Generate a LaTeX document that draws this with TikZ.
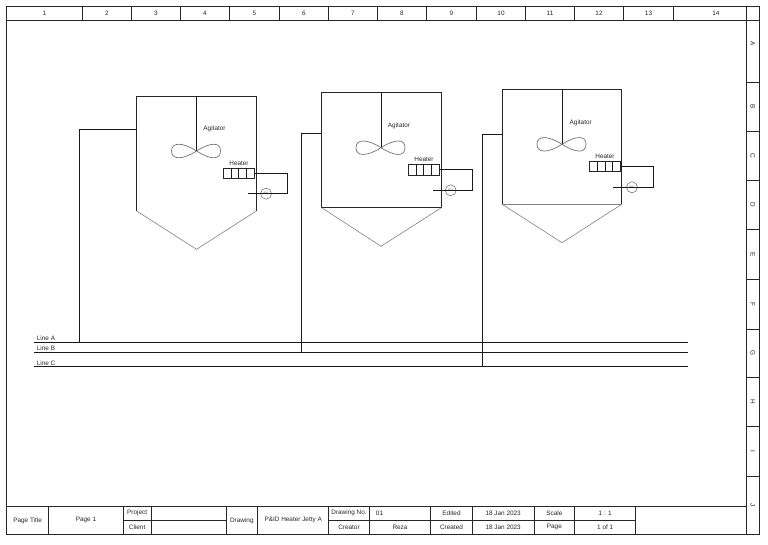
\documentclass[tikz,border=0pt]{standalone}
\usepackage{fontspec}
\setmainfont{Liberation Sans}
\begin{document}
\begin{tikzpicture}[x=1pt,y=-1pt,
  cell/.style={draw=black!85,line width=0.9pt,inner sep=0pt,outer sep=0pt,text=black!85,font=\fontsize{6.4}{7}\selectfont},
  tag/.style={inner sep=0pt,text=black!85,font=\fontsize{6.4}{7}\selectfont},
  pipe/.style={draw=black!90,line width=0.9pt},
  shell/.style={draw=black!85,line width=0.9pt},
  cone/.style={draw=black!50,line width=0.6pt},
  blade/.style={draw=black!55,line width=0.7pt},
  valve/.style={circle,draw=black!60,line width=0.5pt,fill=white,minimum size=11pt,inner sep=0pt,text=black!60,font=\fontsize{3.5}{4}\selectfont}]
\useasboundingbox (0,0) rectangle (768,544);

% Sheet
\node[cell,minimum width=739.8,minimum height=486.1] (sheet) at (376.4,263.45) {};

% Column ruler
\node[cell,minimum width=75.8,minimum height=13.9] (col1) at (44.4,13.45) {1};
\node[cell,minimum width=49.4,minimum height=13.9] (col2) at (107,13.45) {2};
\node[cell,minimum width=48.6,minimum height=13.9] (col3) at (156,13.45) {3};
\node[cell,minimum width=49.4,minimum height=13.9] (col4) at (205,13.45) {4};
\node[cell,minimum width=49.6,minimum height=13.9] (col5) at (254.5,13.45) {5};
\node[cell,minimum width=49.4,minimum height=13.9] (col6) at (304,13.45) {6};
\node[cell,minimum width=48.6,minimum height=13.9] (col7) at (353,13.45) {7};
\node[cell,minimum width=49.4,minimum height=13.9] (col8) at (402,13.45) {8};
\node[cell,minimum width=49.6,minimum height=13.9] (col9) at (451.5,13.45) {9};
\node[cell,minimum width=49.4,minimum height=13.9] (col10) at (501,13.45) {10};
\node[cell,minimum width=48.6,minimum height=13.9] (col11) at (550,13.45) {11};
\node[cell,minimum width=49.4,minimum height=13.9] (col12) at (599,13.45) {12};
\node[cell,minimum width=49.6,minimum height=13.9] (col13) at (648.5,13.45) {13};
\node[cell,minimum width=73,minimum height=13.9] (col14) at (709.8,13.45) {\hspace*{12pt}14};
\node[cell,minimum width=13,minimum height=13.9] (corner) at (752.8,13.45) {};

% Row ruler
\node[cell,minimum width=13,minimum height=61.6] (rowA) at (752.8,51.2) {};
\node[tag] (rowAlabel) at (752.8,43.5) {\rotatebox{-90}{A}};
\node[cell,minimum width=13,minimum height=49.7] (rowB) at (752.8,106.85) {\rotatebox{-90}{B}};
\node[cell,minimum width=13,minimum height=48.6] (rowC) at (752.8,156) {\rotatebox{-90}{C}};
\node[cell,minimum width=13,minimum height=49.4] (rowD) at (752.8,205) {\rotatebox{-90}{D}};
\node[cell,minimum width=13,minimum height=49.6] (rowE) at (752.8,254.5) {\rotatebox{-90}{E}};
\node[cell,minimum width=13,minimum height=49.7] (rowF) at (752.8,304.15) {\rotatebox{-90}{F}};
\node[cell,minimum width=13,minimum height=48.7] (rowG) at (752.8,353.35) {\rotatebox{-90}{G}};
\node[cell,minimum width=13,minimum height=49] (rowH) at (752.8,402.2) {\rotatebox{-90}{H}};
\node[cell,minimum width=13,minimum height=50] (rowI) at (752.8,451.7) {\rotatebox{-90}{I}};
\node[cell,minimum width=13,minimum height=57.6] (rowJ) at (752.8,505.5) {\rotatebox{-90}{J}};

% Title block
\node[cell,minimum width=42.2,minimum height=27.8] (pageTitle) at (27.6,520.4) {Page Title};
\node[cell,minimum width=74.6,minimum height=27.8] (pageName) at (86,520.4) {Page 1};
\node[cell,minimum width=27.7,minimum height=13.5] (project) at (137.15,513.25) {Project};
\node[cell,minimum width=27.7,minimum height=14.3] (client) at (137.15,527.15) {Client};
\node[cell,minimum width=75,minimum height=13.5] (projectValue) at (188.5,513.25) {};
\node[cell,minimum width=75,minimum height=14.3] (clientValue) at (188.5,527.15) {};
\node[cell,minimum width=31.7,minimum height=27.8] (drawing) at (241.85,520.4) {Drawing};
\node[cell,minimum width=71,minimum height=27.8] (drawingName) at (293.2,520.4) {P\&ID Heater Jetty A};
\node[cell,minimum width=40.6,minimum height=13.5] (drawingNo) at (349,513.25) {Drawing No.};
\node[cell,minimum width=40.6,minimum height=14.3] (creator) at (349,527.15) {Creator};
\node[cell,minimum width=61.4,minimum height=13.5] (drawingNoValue) at (400,513.25) {\hspace*{-41pt}01};
\node[cell,minimum width=61.4,minimum height=14.3] (creatorValue) at (400,527.15) {Reza};
\node[cell,minimum width=41.6,minimum height=13.5] (edited) at (451.5,513.25) {Edited};
\node[cell,minimum width=41.6,minimum height=14.3] (created) at (451.5,527.15) {Created};
\node[cell,minimum width=61.7,minimum height=13.5] (editedDate) at (503.15,513.25) {18 Jan 2023};
\node[cell,minimum width=61.7,minimum height=14.3] (createdDate) at (503.15,527.15) {18 Jan 2023};
\node[cell,minimum width=40.7,minimum height=13.5] (scale) at (554.35,513.25) {Scale};
\node[cell,minimum width=40.7,minimum height=14.3] (page) at (554.35,527.15) {Page};
\node[cell,minimum width=61,minimum height=13.5] (scaleValue) at (605.2,513.25) {1 : 1};
\node[cell,minimum width=61,minimum height=14.3] (pageValue) at (605.2,527.15) {1 of 1};
\node[cell,minimum width=110.6,minimum height=27.8] (blank) at (691,520.4) {};

% Lines
\coordinate (lineAin) at (34,342);
\coordinate (lineAout) at (688,342);
\coordinate (lineBin) at (34,352.3);
\coordinate (lineBout) at (688,352.3);
\coordinate (lineCin) at (34,366.3);
\coordinate (lineCout) at (688,366.3);
\draw[pipe] (lineAin) -- (lineAout);
\draw[pipe] (lineBin) -- (lineBout);
\draw[pipe] (lineCin) -- (lineCout);
\node[tag] (lineAlabel) at (46,338.7) {Line A};
\node[tag] (lineBlabel) at (46,348.7) {Line B};
\node[tag] (lineClabel) at (46,363) {Line C};

% Vessel 1
\coordinate (topL1) at (136.7,96.3);
\coordinate (topR1) at (256.3,96.3);
\coordinate (botL1) at (136.7,211);
\coordinate (botR1) at (256.3,211);
\coordinate (tip1) at (196.5,249.3);
\coordinate (shaftTop1) at (196.5,96.3);
\coordinate (hub1) at (196.5,151);
\coordinate (feed1) at (136.7,129.7);
\coordinate (tap1) at (79.3,342);
\coordinate (returnEnd1) at (248,193.7);
\draw[shell] (botL1) -- (topL1) -- (topR1) -- (botR1);
\draw[cone] (botL1) -- (tip1) -- (botR1);
\draw[pipe] (shaftTop1) -- (hub1);
\draw[blade] (hub1) .. controls (182.5,142) and (171.5,142) .. (171.5,151) .. controls (171.5,160) and (182.5,160) .. (hub1) .. controls (210.5,142) and (220.5,142) .. (220.5,151) .. controls (220.5,160) and (210.5,160) .. (hub1);
\draw[pipe] (feed1) -| (tap1);
\node[tag] (agitator1) at (214.5,129) {Agitator};
\node[tag] (heaterLabel1) at (239,163.3) {Heater};
\node[cell,minimum width=31,minimum height=10] (heater1) at (238.8,173.3) {};
\draw[pipe] (231,168.3) -- (231,178.3) (238.8,168.3) -- (238.8,178.3) (246.5,168.3) -- (246.5,178.3);
\node[valve] (valve1) at (266,193.7) {BV};
\draw[pipe] (heater1.east) -- ++(33,0) |- (returnEnd1);

% Vessel 2
\coordinate (topL2) at (321.7,92.3);
\coordinate (topR2) at (441.3,92.3);
\coordinate (botL2) at (321.7,207.7);
\coordinate (botR2) at (441.3,207.7);
\coordinate (tip2) at (381,246.3);
\coordinate (shaftTop2) at (381,92.3);
\coordinate (hub2) at (381,147.7);
\coordinate (feed2) at (321.7,133.3);
\coordinate (tap2) at (301.5,352.3);
\coordinate (returnEnd2) at (432.7,190.3);
\draw[shell] (topL2) rectangle (botR2);
\draw[cone] (botL2) -- (tip2) -- (botR2);
\draw[pipe] (shaftTop2) -- (hub2);
\draw[blade] (hub2) .. controls (367,138.7) and (356,138.7) .. (356,147.7) .. controls (356,156.7) and (367,156.7) .. (hub2) .. controls (395,138.7) and (405,138.7) .. (405,147.7) .. controls (405,156.7) and (395,156.7) .. (hub2);
\draw[pipe] (feed2) -| (tap2);
\node[tag] (agitator2) at (399,126) {Agitator};
\node[tag] (heaterLabel2) at (424,159.3) {Heater};
\node[cell,minimum width=31,minimum height=11.3] (heater2) at (423.8,169.6) {};
\draw[pipe] (416,164) -- (416,175.3) (423.8,164) -- (423.8,175.3) (431.5,164) -- (431.5,175.3);
\node[valve] (valve2) at (450.7,190.3) {BV};
\draw[pipe] (heater2.east) -- ++(33,0) |- (returnEnd2);

% Vessel 3
\coordinate (topL3) at (502.3,89.3);
\coordinate (topR3) at (621.7,89.3);
\coordinate (botL3) at (502.3,204.3);
\coordinate (botR3) at (621.7,204.3);
\coordinate (tip3) at (562,242.7);
\coordinate (shaftTop3) at (562,89.3);
\coordinate (hub3) at (562,144.3);
\coordinate (feed3) at (502.3,134);
\coordinate (tap3) at (482.3,366.3);
\coordinate (returnEnd3) at (613.3,187.3);
\draw[shell] (botL3) -- (topL3) -- (topR3) -- (botR3);
\draw[cone] (botL3) -- (botR3);
\draw[cone] (botL3) -- (tip3) -- (botR3);
\draw[pipe] (shaftTop3) -- (hub3);
\draw[blade] (hub3) .. controls (548,135.3) and (537,135.3) .. (537,144.3) .. controls (537,153.3) and (548,153.3) .. (hub3) .. controls (576,135.3) and (586,135.3) .. (586,144.3) .. controls (586,153.3) and (576,153.3) .. (hub3);
\draw[pipe] (feed3) -| (tap3);
\node[tag] (agitator3) at (580.7,123) {Agitator};
\node[tag] (heaterLabel3) at (605,156.3) {Heater};
\node[cell,minimum width=30.6,minimum height=10] (heater3) at (605,166.7) {};
\draw[pipe] (597.3,161.7) -- (597.3,171.7) (605,161.7) -- (605,171.7) (612.7,161.7) -- (612.7,171.7);
\node[valve] (valve3) at (632,187.3) {BV};
\draw[pipe] (heater3.east) -- ++(33.3,0) |- (returnEnd3);

\end{tikzpicture}
\end{document}
